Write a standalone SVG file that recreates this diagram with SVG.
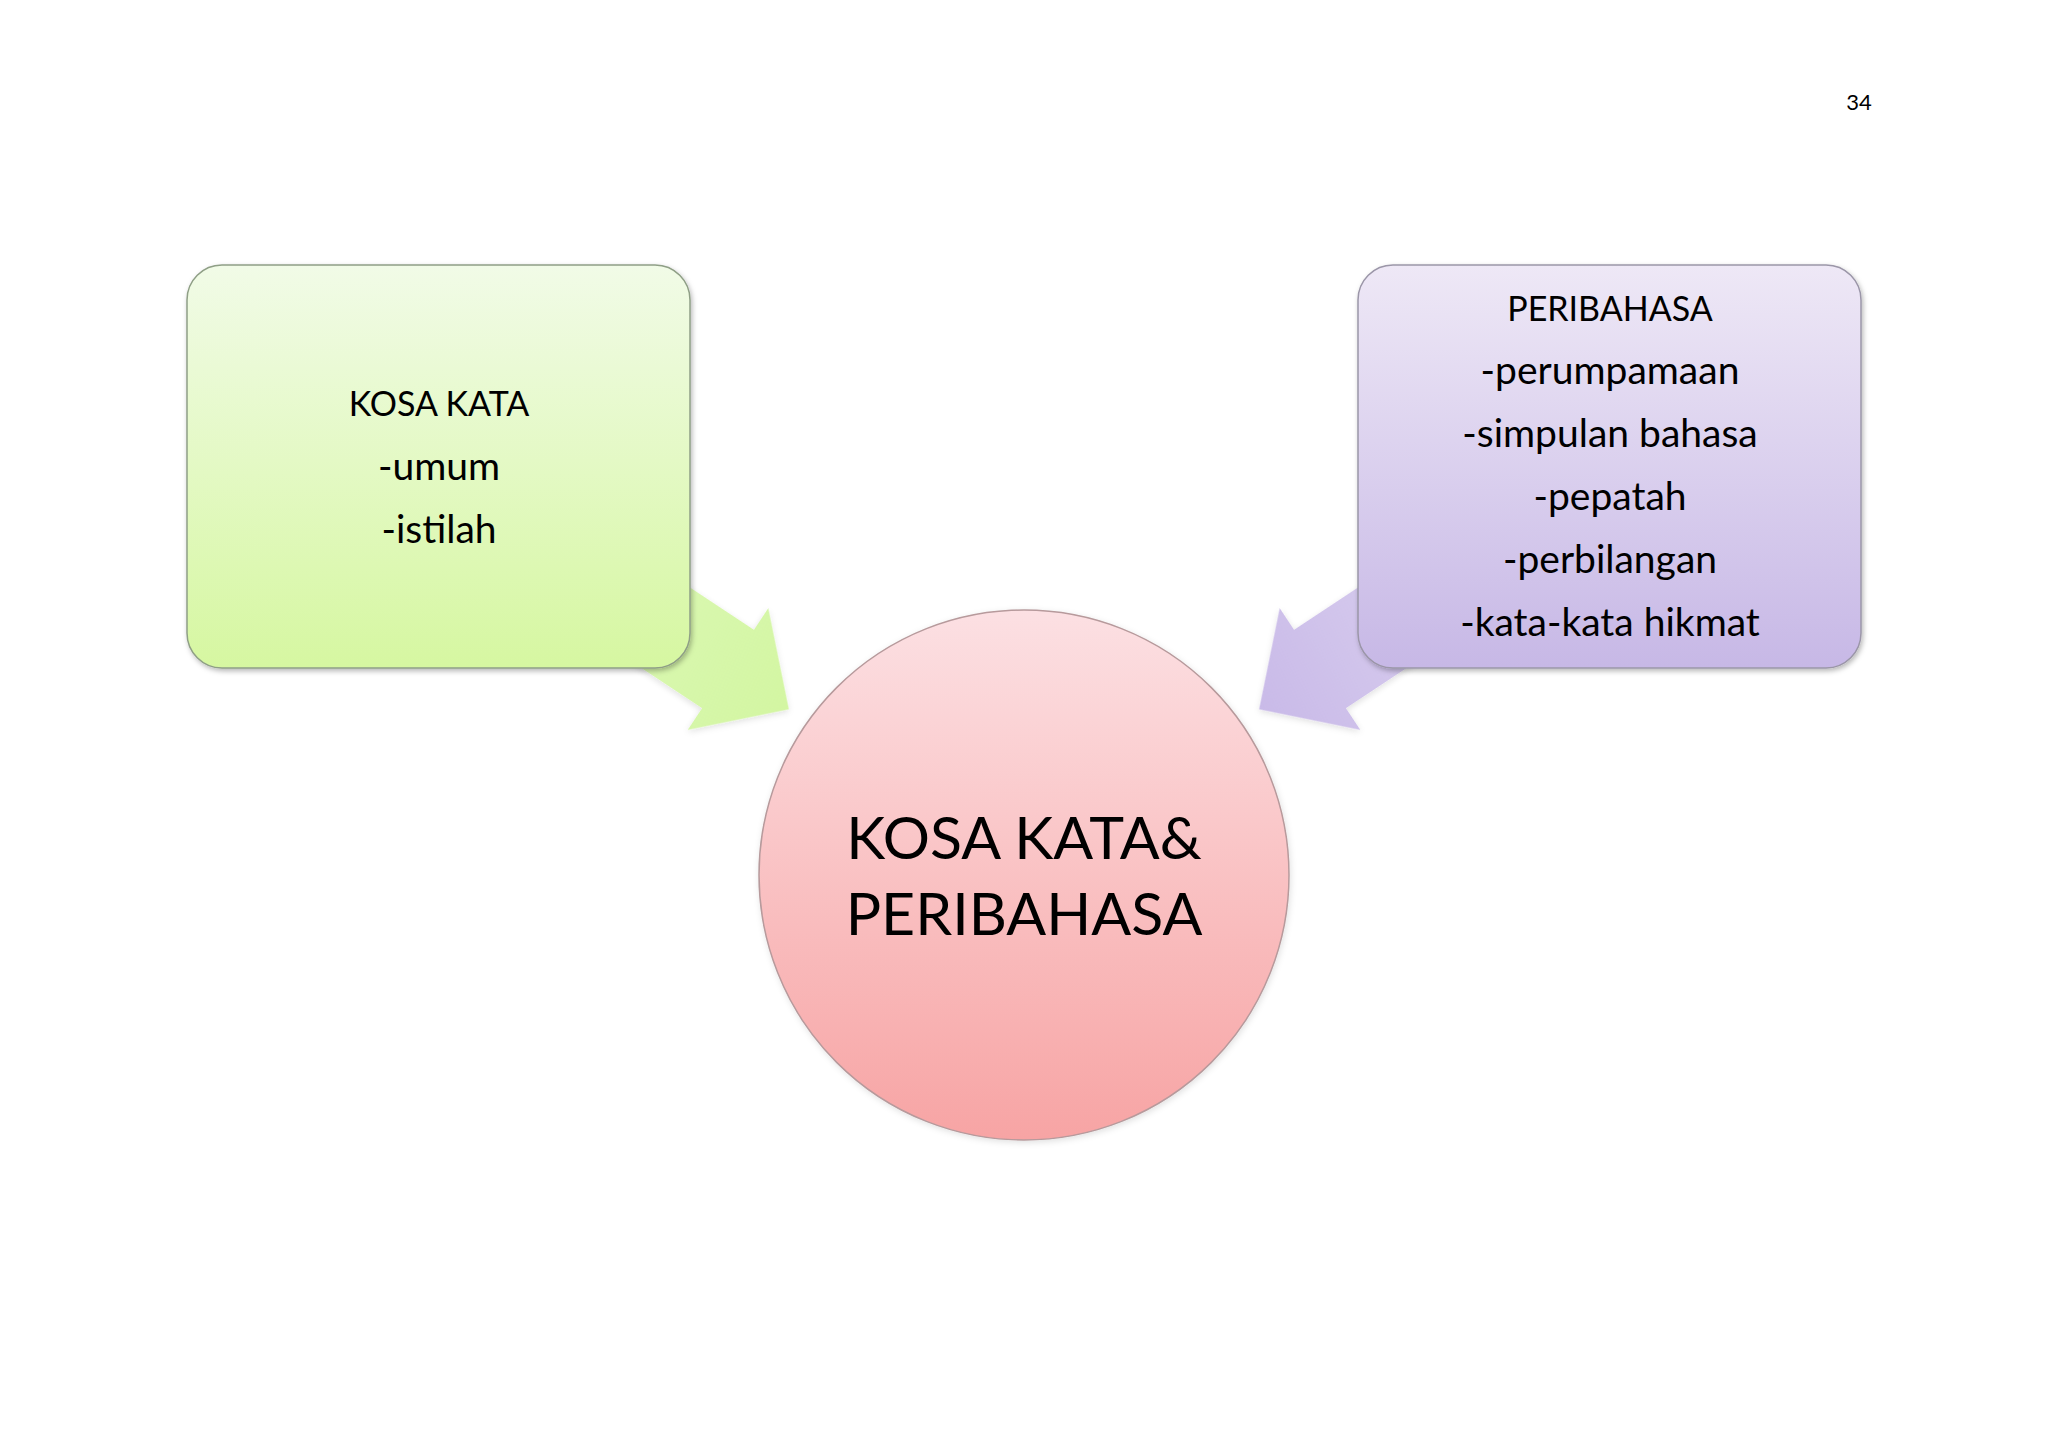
<svg xmlns="http://www.w3.org/2000/svg" width="2048" height="1448" viewBox="0 0 2048 1448">
  <defs>
    <linearGradient id="gGreen" x1="0" y1="0" x2="0" y2="1">
      <stop offset="0" stop-color="#f1fbe7"/>
      <stop offset="1" stop-color="#d6f7a1"/>
    </linearGradient>
    <linearGradient id="gPurple" x1="0" y1="0" x2="0" y2="1">
      <stop offset="0" stop-color="#eee8f6"/>
      <stop offset="1" stop-color="#c7b8e6"/>
    </linearGradient>
    <linearGradient id="gPink" x1="0" y1="0" x2="0" y2="1">
      <stop offset="0" stop-color="#fce0e3"/>
      <stop offset="1" stop-color="#f7a4a4"/>
    </linearGradient>
    <linearGradient id="gArrowG" x1="0" y1="0" x2="1" y2="0">
      <stop offset="0" stop-color="#dcf8b6"/>
      <stop offset="1" stop-color="#d3f6a2"/>
    </linearGradient>
    <linearGradient id="gArrowP" x1="0" y1="0" x2="1" y2="0">
      <stop offset="0" stop-color="#dad0ef"/>
      <stop offset="1" stop-color="#c9bae8"/>
    </linearGradient>
    <filter id="shadow" x="-10%" y="-10%" width="125%" height="125%">
      <feDropShadow dx="1.5" dy="2.5" stdDeviation="2.5" flood-color="#000" flood-opacity="0.28"/>
    </filter>
    <filter id="softShadow" x="-10%" y="-10%" width="125%" height="125%">
      <feDropShadow dx="1" dy="2" stdDeviation="3" flood-color="#000" flood-opacity="0.12"/>
    </filter>
    <polygon id="arrowShape" points="-175,-47 0,-47 0,-73 73,0 0,73 0,47 -175,47"/>
  </defs>
  <style>
    .lbl { font-family: Lato, "Open Sans", "Liberation Sans", sans-serif; fill: #000; text-anchor: middle; }
    .box { font-size: 34px; }
    .low { font-size: 39px; }
    .big { font-size: 59px; }
    .pg { font-size: 22px; }
  </style>
  <rect x="0" y="0" width="2048" height="1448" fill="#ffffff"/>

  <text class="lbl pg" x="1859" y="110">34</text>

  <g id="connectors">
    <g transform="translate(728,669) rotate(33.5)">
      <use href="#arrowShape" fill="url(#gArrowG)" filter="url(#softShadow)"/>
    </g>
    <g transform="translate(2048,0) scale(-1,1)">
      <g transform="translate(728,669) rotate(33.5)">
        <use href="#arrowShape" fill="url(#gArrowP)" filter="url(#softShadow)"/>
      </g>
    </g>
  </g>

  <g id="node-kosakata">
    <rect x="187" y="265" width="503" height="403" rx="35" ry="35" fill="url(#gGreen)" stroke="#8f9f86" stroke-width="1.5" filter="url(#shadow)"/>
    <text class="lbl box" x="439" y="416">KOSA KATA</text>
    <text class="lbl low" x="439" y="480">-umum</text>
    <text class="lbl low" x="439" y="543">-istilah</text>
  </g>

  <g id="node-peribahasa">
    <rect x="1358" y="265" width="503" height="403" rx="35" ry="35" fill="url(#gPurple)" stroke="#9b96a8" stroke-width="1.5" filter="url(#shadow)"/>
    <text class="lbl box" x="1610" y="321">PERIBAHASA</text>
    <text class="lbl low" x="1610" y="384">-perumpamaan</text>
    <text class="lbl low" x="1610" y="447">-simpulan bahasa</text>
    <text class="lbl low" x="1610" y="510">-pepatah</text>
    <text class="lbl low" x="1610" y="573">-perbilangan</text>
    <text class="lbl low" x="1610" y="636">-kata-kata hikmat</text>
  </g>

  <g id="node-center">
    <circle cx="1024" cy="875" r="265" fill="url(#gPink)" stroke="#b79a9c" stroke-width="1.5" filter="url(#softShadow)"/>
    <text class="lbl big" x="1024" y="859">KOSA KATA&amp;</text>
    <text class="lbl big" x="1024" y="935">PERIBAHASA</text>
  </g>
</svg>
